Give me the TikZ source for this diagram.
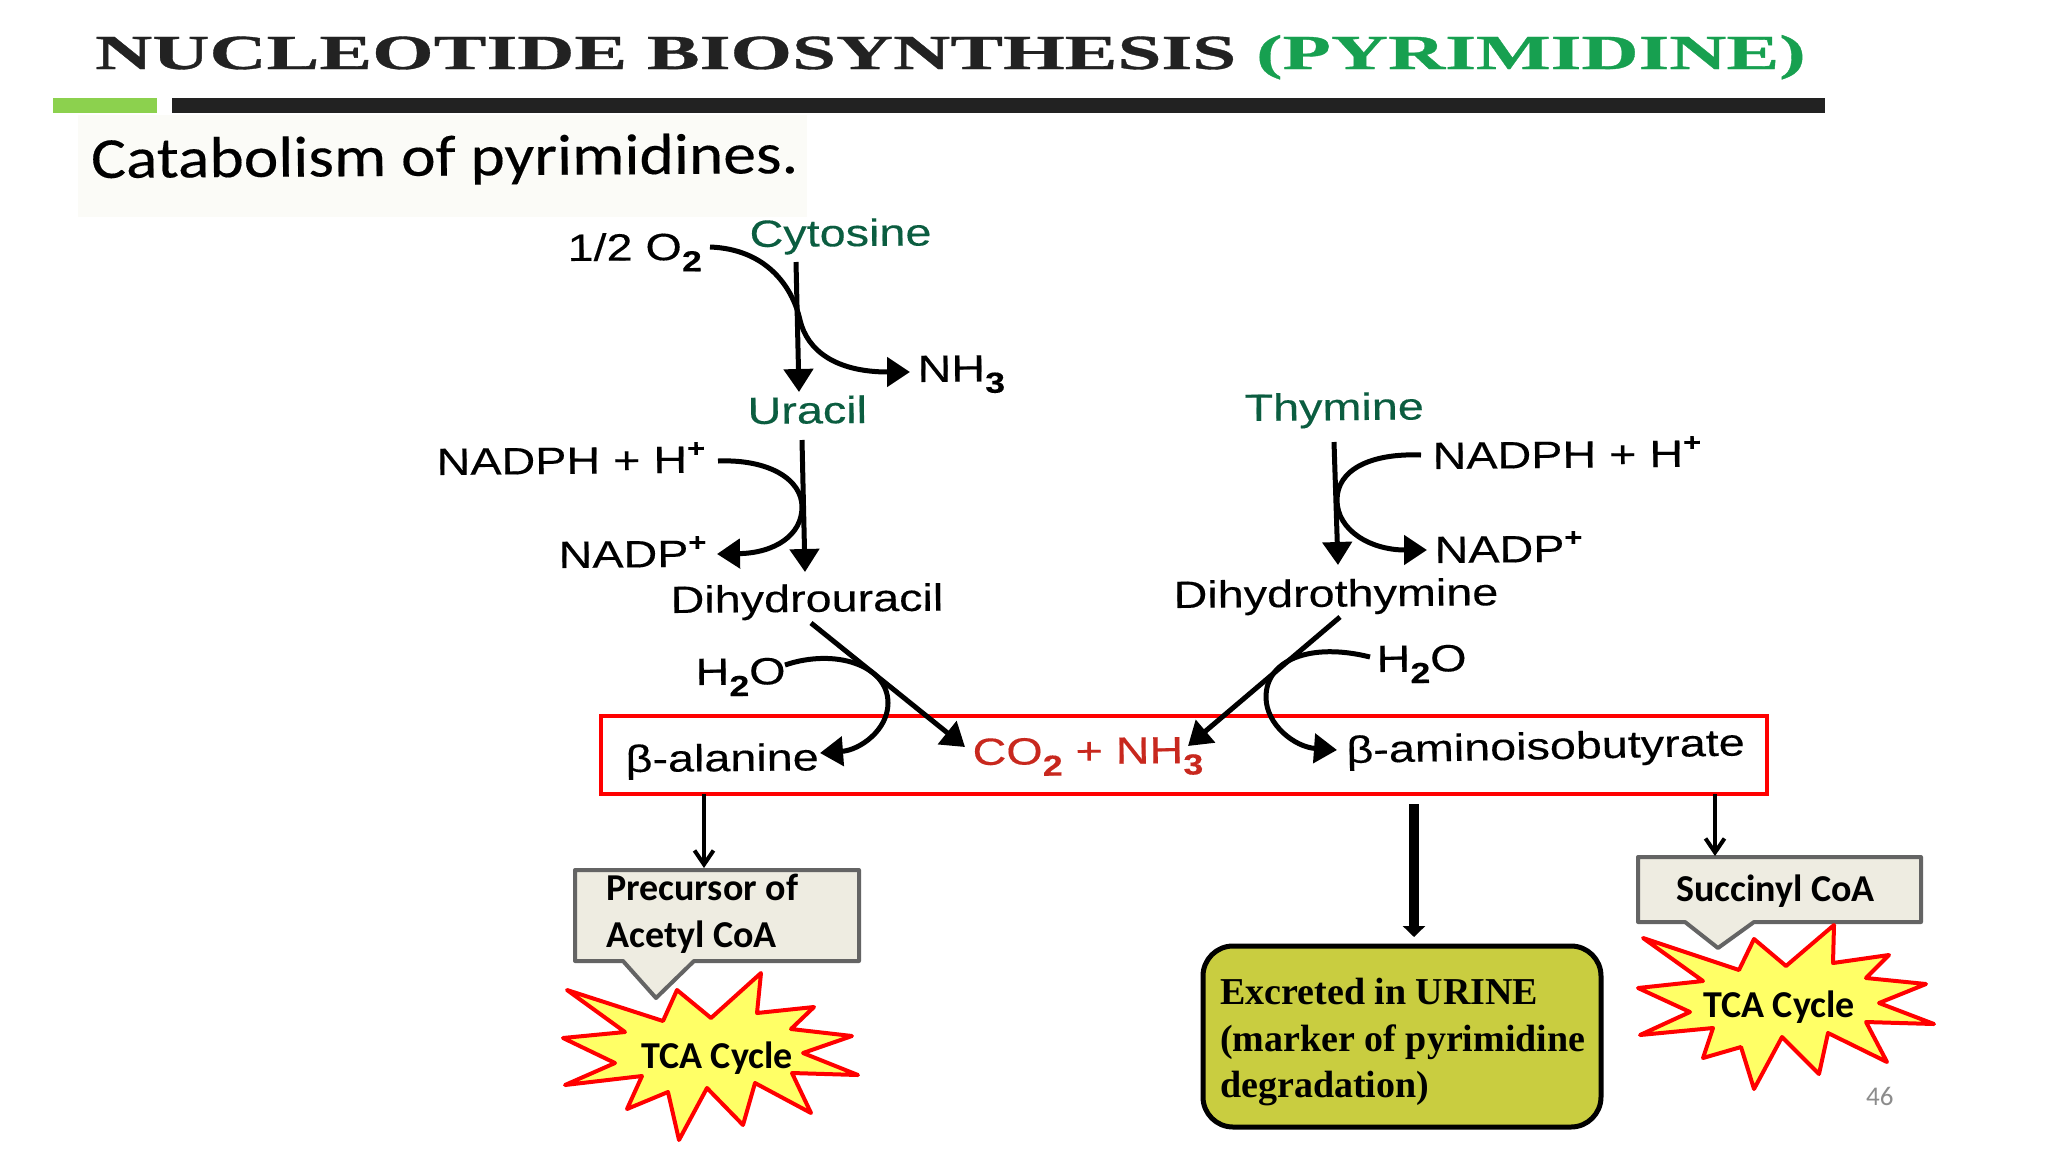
\documentclass[tikz,border=0pt]{standalone}
\usepackage{fontspec}
\usepackage{tikz}
\usetikzlibrary{arrows.meta}
\setmainfont{Liberation Sans}
\newfontfamily\pathfont[FakeStretch=1.23,FakeBold=0.3]{Liberation Sans}
\newfontfamily\headfont[FakeStretch=1.615,BoldFeatures={FakeBold=0.7}]{Liberation Serif}
\newfontfamily\noteserif{Liberation Serif}
\newfontfamily\notefont{Carlito}
\newfontfamily\subfont[FakeStretch=1.13,FakeBold=0.25]{Carlito}
\definecolor{headdark}{HTML}{222222}
\definecolor{headgreen}{HTML}{17A050}
\definecolor{bargreen}{HTML}{8CD14E}
\definecolor{pathgreen}{HTML}{0B5D40}
\definecolor{pathred}{HTML}{C8281E}
\definecolor{calloutfill}{HTML}{EEECE1}
\definecolor{calloutline}{HTML}{646464}
\definecolor{urinefill}{HTML}{C9CD40}
\definecolor{starfill}{HTML}{FFFF66}
\definecolor{patchtint}{HTML}{FBFBF7}
\newcommand{\subnum}[1]{\raisebox{-0.3em}{\fontsize{29}{29}\selectfont\bfseries #1}}
\newcommand{\supplus}{\raisebox{0.42em}{\fontsize{25}{25}\selectfont\bfseries +}}
\tikzset{>={Triangle[length=23pt,width=29pt]}}
\tikzset{
    txt/.style={inner sep=0pt,anchor=base west},
    chem/.style={txt,xshift=-2.5pt,rotate=0.5,font=\pathfont\fontsize{38}{41}\selectfont},
    rxn/.style={->,line width=5pt},
    barb/.style={-{Straight Barb[length=14pt,width=19pt]},line width=4pt},
    callout/.style={draw=calloutline,fill=calloutfill,line width=4pt,line join=round},
    burst/.style={draw=red,fill=starfill,line width=4pt,line join=round},
    notetxt/.style={txt,font=\notefont\bfseries\fontsize{38}{41}\selectfont},
    urinetxt/.style={txt,font=\noteserif\bfseries\fontsize{38}{41}\selectfont},
}

\begin{document}
\begin{tikzpicture}[x=1pt,y=-1pt]
            \useasboundingbox (0,0) rectangle (2048,1152);
            \fill[white] (0,0) rectangle (2048,1152);
            \fill[patchtint] (78,115) rectangle (807,217);
            \node[txt,font=\headfont\bfseries\fontsize{49}{52}\selectfont,text=headdark] (title) at (95,69) {NUCLEOTIDE BIOSYNTHESIS \textcolor{headgreen}{(PYRIMIDINE)}};
            \fill[bargreen] (53,98) rectangle (157,113);
            \fill[headdark] (172,98) rectangle (1825,113);
            \node[txt,rotate=0.4,font=\subfont\fontsize{58}{62}\selectfont] (subtitle) at (91,178) {Catabolism of pyrimidines.};

            \node[chem] (oxy) at (570,261) {1/2 O\subnum{2}};
            \node[chem,text=pathgreen] (cytosine) at (752,247) {Cytosine};
            \node[chem] (nhthree) at (920,382) {NH\subnum{3}};
            \node[chem,text=pathgreen] (uracil) at (750,424) {Uracil};
            \node[chem] (nadphL) at (439,475) {NADPH + H\supplus};
            \node[chem] (nadpL) at (561,568) {NADP\supplus};
            \node[chem] (dhu) at (673,613) {Dihydrouracil};
            \node[chem] (waterL) at (698,685) {H\subnum{2}O};
            \node[chem,text=pathgreen] (thymine) at (1247,421) {Thymine};
            \node[chem] (nadphR) at (1435,469) {NADPH + H\supplus};
            \node[chem] (nadpR) at (1437,563) {NADP\supplus};
            \node[chem] (dht) at (1176,608) {Dihydrothymine};
            \node[chem] (waterR) at (1379,672) {H\subnum{2}O};
            \node[chem] (alanine) at (628,772) {β-alanine};
            \node[chem,text=pathred] (products) at (975,765) {CO\subnum{2} + NH\subnum{3}};
            \node[chem,rotate=0.6] (baiba) at (1349,763) {β-aminoisobutyrate};
            \draw[red,line width=4pt] (601,716) rectangle (1767,794);
            \coordinate (boxL) at (704,794);
            \coordinate (boxM) at (1414,804);
            \coordinate (boxR) at (1715,794);

            \coordinate (cytoOut) at (796,262);
            \coordinate (uraIn) at (799,392);
            \coordinate (oxyOut) at (710,247);
            \coordinate (nhIn) at (910,372);
            \draw[rxn] (cytoOut) -- (uraIn);
            \draw[rxn] (oxyOut) .. controls (765,249) and (792,285) .. (800,320) .. controls (807,350) and (835,372) .. (nhIn);

            \coordinate (uraOut) at (802,440);
            \coordinate (dhuIn) at (805,572);
            \coordinate (nadphLOut) at (718,461);
            \coordinate (nadpLIn) at (717,554);
            \draw[rxn] (uraOut) -- (dhuIn);
            \draw[rxn] (nadphLOut) .. controls (770,459) and (802,480) .. (802,507) .. controls (802,535) and (775,553) .. (nadpLIn);

            \coordinate (thyOut) at (1334,442);
            \coordinate (dhtIn) at (1338,565);
            \coordinate (nadphROut) at (1421,455);
            \coordinate (nadpRIn) at (1427,550);
            \draw[rxn] (thyOut) -- (dhtIn);
            \draw[rxn] (nadphROut) .. controls (1370,453) and (1337,470) .. (1337,500) .. controls (1337,530) and (1370,550) .. (nadpRIn);

            \coordinate (dhuOut) at (811,623);
            \coordinate (prodL) at (965,747);
            \coordinate (waterLOut) at (785,665);
            \coordinate (alaIn) at (820,753);
            \draw[rxn] (dhuOut) -- (prodL);
            \draw[rxn] (waterLOut) .. controls (835,648) and (888,665) .. (888,703) .. controls (888,730) and (860,750) .. (alaIn);

            \coordinate (dhtOut) at (1340,617);
            \coordinate (prodR) at (1188,746);
            \coordinate (waterROut) at (1370,657);
            \coordinate (baibaIn) at (1337,750);
            \draw[rxn] (dhtOut) -- (prodR);
            \draw[rxn] (waterROut) .. controls (1310,642) and (1266,660) .. (1266,697) .. controls (1266,725) and (1295,747) .. (baibaIn);

            \draw[callout] (575,870) -- (859,870) -- (859,961) -- (694,961) -- (656,998) -- (623,961) -- (575,961) -- cycle;
            \node[notetxt] (precursor) at (606,900) {Precursor of};
            \node[notetxt] (acetyl) at (606,947) {Acetyl CoA};
            \coordinate (calloutL) at (704,868);
            \draw[barb] (boxL) -- (calloutL);

            \draw[burst] (567,990) -- (663,1021) -- (677,990) -- (711,1018) -- (761,973) -- (757,1013) -- (814,1007) -- (791,1029) -- (852,1036) -- (803,1053) -- (858,1075) -- (792,1073) -- (811,1113) -- (755,1083) -- (743,1125) -- (707,1088) -- (679,1140) -- (668,1092) -- (627,1109) -- (642,1076) -- (565,1085) -- (615,1063) -- (563,1038) -- (625,1032) -- cycle;
            \node[notetxt] (tcaL) at (641,1068) {TCA Cycle};

            \node[draw=black,fill=urinefill,line width=5pt,rounded corners=30pt,minimum width=398pt,minimum height=181pt,inner sep=0pt] (urine) at (1402,1036.5) {};
            \node[urinetxt] (urineA) at (1220,1004) {Excreted in URINE};
            \node[urinetxt] (urineB) at (1220,1051) {(marker of pyrimidine};
            \node[urinetxt] (urineC) at (1220,1097) {degradation)};
            \coordinate (urineIn) at (1414,937);
            \draw[-{Triangle[length=11pt,width=22pt]},line width=10pt] (boxM) -- (urineIn);

            \draw[callout] (1638,857) -- (1921,857) -- (1921,922) -- (1754,922) -- (1718,948) -- (1685,922) -- (1638,922) -- cycle;
            \node[notetxt] (succinyl) at (1676,901) {Succinyl CoA};
            \coordinate (calloutR) at (1715,856);
            \draw[barb] (boxR) -- (calloutR);

            \draw[burst] (1643,938) -- (1739,970) -- (1754,939) -- (1786,966) -- (1834,925) -- (1833,963) -- (1889,955) -- (1866,978) -- (1926,984) -- (1879,1003) -- (1934,1024) -- (1866,1022) -- (1887,1062) -- (1828,1033) -- (1819,1074) -- (1782,1037) -- (1754,1089) -- (1741,1047) -- (1703,1058) -- (1713,1028) -- (1640,1035) -- (1690,1012) -- (1638,988) -- (1703,981) -- cycle;
            \node[notetxt] (tcaR) at (1703,1017) {TCA Cycle};

            \node[txt,font=\notefont\fontsize{27}{30}\selectfont,text=black!45] (pagenum) at (1866,1105) {46};
        \end{tikzpicture}
\end{document}
